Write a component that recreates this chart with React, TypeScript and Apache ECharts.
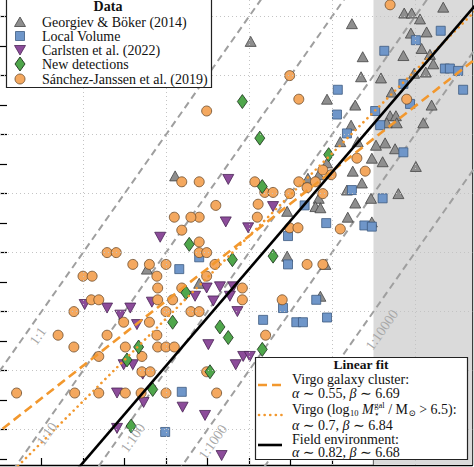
import React, { useEffect, useRef } from 'react';
import * as echarts from 'echarts';

const SERIF = '"Liberation Serif", "DejaVu Serif", serif';

// Axis extents, log10 of the stellar masses
const xMin = 5;
const xMax = 10.69;
const yMin = 4.2;
const yMax = 8.2;
const pxPerDexX = 83;
const pxPerDexY = 118;

const xTickValues = [5.5, 6, 6.5, 7, 7.5, 8, 8.5, 9, 9.5, 10, 10.5];
const yTickValues = [4.25, 4.5, 4.75, 5, 5.25, 5.5, 5.75, 6, 6.25, 6.5, 6.75, 7, 7.25, 7.5, 7.75, 8];
const xGridValues = [6, 7, 8, 9, 10];
const yGridValues = [4.5, 5, 5.5, 6, 6.5, 7, 7.5, 8];

// galaxy masses above this are shaded
const shadeFrom = 9.5;

// constant mass ratio lines M_nsc = ratio * M_gal
const ratioOffsets = [0, -1, -2, -3, -4];
const ratioLabels = ['1:1', '1:10', '1:100', '1:1000', '1:10000'];

// linear fits: log M_nsc = alpha (log M_gal - 9) + beta
const fitAlpha = [0.55, 0.7, 0.82];
const fitBeta = [6.69, 6.84, 6.68];
const fitPivot = 9;

const georgievBoker = [
  [8.02, 7.79], [9.24, 7.94], [9.87, 8.03], [9.96, 8.03], [10.34, 8.08], [10.06, 7.98], [9.95, 7.86],
  [10.14, 7.87], [10.08, 7.73], [9.86, 7.67], [9.37, 7.66], [10.18, 7.68], [10.22, 7.6], [10.13, 7.53],
  [9.35, 7.49], [9.59, 7.48], [8.94, 7.3], [9.28, 7.25], [9.72, 7.36], [9.7, 7.16], [9.77, 7.16],
  [10.2, 7.25], [9.99, 7.52], [9.23, 7.08], [9.66, 7.1], [9.78, 7.1], [10.1, 7.1], [9.64, 6.93],
  [9.76, 6.88], [9.53, 6.91], [9.31, 6.94], [9.48, 6.8], [9.61, 6.77], [10.01, 6.73], [9.25, 6.69],
  [8.94, 6.76], [8.84, 6.66], [9.36, 6.59], [9.18, 6.53], [9.47, 6.46], [9.8, 6.5], [9.28, 6.42],
  [9.19, 6.3], [9.48, 6.26], [8.84, 6.46], [8.46, 6.35], [8.8, 6.39], [8.86, 6.38], [9.1, 6.94],
  [8.71, 6.63], [6.77, 5.86], [7.4, 5.74], [7.11, 6.65], [8.46, 5.97], [8.92, 5.9], [8.86, 5.63],
];

const localVolume = [
  [10.31, 7.88], [10.01, 7.8], [9.63, 7.71], [10.36, 7.56], [10.42, 7.56], [10.52, 7.54], [9.07, 7.38],
  [9.06, 7.17], [10.58, 7.38], [9.86, 7.43], [9.94, 7.26], [9.52, 7.2], [9.18, 7.01], [9.58, 7.08],
  [9.86, 6.85], [9.24, 6.53], [9.61, 6.46], [9.39, 6.23], [9.48, 6.22], [8.93, 6.25], [8.67, 6.4],
  [8.47, 6.14], [8.47, 5.9], [8.41, 5.53], [8.81, 5.6], [8.17, 5.43], [8.57, 5.41], [8.65, 5.41],
  [8.94, 5.45], [7.16, 5.86], [7.4, 5.96], [7.19, 4.82], [6.99, 4.48],
];

const carlsten = [
  [7.75, 6.62], [6.93, 6.13], [8.29, 6.39], [7.99, 6.21], [6.02, 5.56], [6.29, 5.53], [6.45, 5.47],
  [6.57, 5.53], [6.65, 5.39], [6.83, 5.58], [7.49, 5.7], [7.65, 5.71], [7.35, 5.63], [7.57, 5.59],
  [7.81, 5.71], [7.77, 5.63], [7.86, 5.5], [7.51, 5.22], [7.72, 6.26], [6.49, 5.05], [6.6, 5.05],
  [6.72, 4.97], [6.41, 4.81], [6.73, 4.73], [7.2, 4.69], [7.47, 4.62], [6.41, 4.51], [7.67, 4.28],
  [7.84, 5.05], [7.93, 5.12], [8.01, 5.12],
];

const newDetections = [
  [7.92, 7.28], [8.13, 6.97], [8.16, 6.56], [8.96, 6.83], [7.28, 6.07], [7.8, 5.94], [7.24, 5.66],
  [7.08, 5.41], [6.67, 5.2], [6.53, 5.09], [7.65, 5.37], [7.75, 5.28], [8.16, 5.18], [6.84, 4.84],
  [6.58, 4.53], [7.53, 4.99], [8.29, 5.97],
];

const sanchezJanssen = [
  [7.49, 7.2], [9.7, 8.1], [8.49, 7.5], [8.6, 7.3], [9.9, 7.3], [7.19, 6.6], [7.4, 6.6], [7.6, 6.4],
  [7.1, 6.3], [7.4, 6.3], [7.19, 6.19], [9.3, 6.8], [9.4, 6.69], [8.89, 6.7], [8.99, 6.66], [8.07, 6.6],
  [8.19, 6.51], [8.29, 6.51], [8.49, 6.5], [8.6, 6.6], [8.8, 6.6], [8.7, 6.55], [8.89, 6.5], [8.11, 6.41],
  [8.1, 6.3], [8.49, 6.21], [8.59, 6.21], [9.1, 6.2], [6.29, 6.0], [6.4, 6.0], [6.6, 5.9], [6.8, 5.9],
  [7.0, 5.9], [6.0, 5.8], [6.11, 5.8], [6.1, 5.6], [6.19, 5.6], [6.89, 5.8], [6.9, 5.7], [6.9, 5.6],
  [5.89, 5.5], [6.49, 5.41], [6.8, 5.41], [7.0, 5.5], [6.89, 5.3], [5.7, 5.3], [6.29, 5.3], [5.89, 5.2],
  [6.51, 5.2], [6.9, 5.2], [7.0, 5.2], [7.1, 5.2], [6.19, 5.12], [6.71, 5.12], [7.4, 6.09], [7.4, 6.0],
  [7.49, 6.0], [7.59, 5.9], [7.49, 5.8], [7.08, 5.6], [7.3, 5.5], [7.4, 5.5], [7.19, 5.7], [7.3, 6.3],
  [6.71, 4.99], [6.81, 4.99], [5.2, 4.81], [5.9, 4.81], [6.19, 4.81], [6.51, 4.81], [6.7, 4.81],
  [7.0, 4.81], [7.61, 4.81], [7.49, 4.99], [8.7, 5.9], [8.89, 5.9], [8.4, 5.6], [8.2, 5.3], [7.92, 5.7],
  [7.92, 5.6],
];

const GRAY = '#8e8e8e';
const BLUE = '#6f96c9';
const PURPLE = '#8c4c9a';
const GREEN = '#4fa64b';
const ORANGE = '#f4a85f';
const FIT_ORANGE = '#f2982e';

const measureCtx = typeof document !== 'undefined' ? document.createElement('canvas').getContext('2d') : null;
function textWidth(t: string, size: number, italic = false, bold = false) {
  if (!measureCtx) return t.length * size * 0.45;
  measureCtx.font = `${italic ? 'italic' : 'normal'} ${bold ? 'bold' : 'normal'} ${size}px ${SERIF}`;
  return measureCtx.measureText(t).width;
}

function txt(t: string, x: number, y: number, size: number, opts: any = {}) {
  return {
    type: 'text',
    x,
    y,
    z: 100,
    rotation: opts.rotation || 0,
    silent: true,
    style: {
      text: t,
      fill: opts.fill || '#111',
      fontSize: size,
      fontFamily: SERIF,
      fontStyle: opts.italic ? 'italic' : 'normal',
      fontWeight: opts.bold ? 'bold' : 'normal',
      align: opts.align || 'left',
      textAlign: opts.align || 'left',
      verticalAlign: 'middle',
      textVerticalAlign: 'middle',
    },
  };
}

type Frag = { t: string; size?: number; italic?: boolean; dy?: number; dx?: number; hold?: boolean };
function fragLine(frags: Frag[], x0: number, y: number, base: number) {
  let x = x0;
  const out: any[] = [];
  for (const f of frags) {
    const size = f.size ?? base;
    x += f.dx ?? 0;
    out.push(txt(f.t, x, y + (f.dy ?? 0), size, { italic: f.italic }));
    if (!f.hold) x += textWidth(f.t, size, f.italic);
  }
  return out;
}

function legendGraphics() {
  const els: any[] = [];
  const fs = 14;
  // data legend
  els.push({ type: 'rect', z: 99, shape: { x: 6.5, y: -4, width: 205, height: 91.5 }, style: { fill: '#fff', stroke: '#222', lineWidth: 1.2 } });
  els.push(txt('Data', 108, 6, fs, { bold: true, align: 'center' }));
  const mx = 20;
  const rows = [22, 36, 50, 64, 79];
  els.push({ type: 'polygon', z: 100, shape: { points: [[mx, rows[0] - 5], [mx + 5.5, rows[0] + 4.5], [mx - 5.5, rows[0] + 4.5]] }, style: { fill: GRAY, stroke: '#444', lineWidth: 0.8 } });
  els.push({ type: 'rect', z: 100, shape: { x: mx - 4.5, y: rows[1] - 4.5, width: 9, height: 9 }, style: { fill: BLUE, stroke: '#3d5a80', lineWidth: 0.8 } });
  els.push({ type: 'polygon', z: 100, shape: { points: [[mx - 5.5, rows[2] - 4.5], [mx + 5.5, rows[2] - 4.5], [mx, rows[2] + 5]] }, style: { fill: PURPLE, stroke: '#4a2455', lineWidth: 0.8 } });
  els.push({ type: 'polygon', z: 100, shape: { points: [[mx, rows[3] - 7], [mx + 5, rows[3]], [mx, rows[3] + 7], [mx - 5, rows[3]]] }, style: { fill: GREEN, stroke: '#1d331c', lineWidth: 0.9 } });
  els.push({ type: 'circle', z: 100, shape: { cx: mx, cy: rows[4], r: 5 }, style: { fill: ORANGE, stroke: '#6b4a2a', lineWidth: 0.8 } });
  const names = ['Georgiev & Böker (2014)', 'Local Volume', 'Carlsten et al. (2022)', 'New detections', 'Sánchez-Janssen et al. (2019)'];
  names.forEach((n, i) => els.push(txt(n, 42, rows[i], fs)));

  // fit legend
  els.push({ type: 'rect', z: 99, shape: { x: 255.5, y: 357.5, width: 212, height: 102 }, style: { fill: '#fff', stroke: '#222', lineWidth: 1.2 } });
  els.push(txt('Linear fit', 361, 364.5, 13.5, { bold: true, align: 'center' }));
  const sx1 = 258;
  const sx2 = 282;
  els.push({ type: 'line', z: 100, shape: { x1: sx1, y1: 385, x2: sx2, y2: 385 }, style: { stroke: FIT_ORANGE, lineWidth: 2.6, lineDash: [9, 5] } });
  els.push({ type: 'line', z: 100, shape: { x1: sx1 + 1, y1: 415, x2: sx2, y2: 415 }, style: { stroke: FIT_ORANGE, lineWidth: 2.6, lineDash: [0.1, 5.5], lineCap: 'round' } });
  els.push({ type: 'line', z: 100, shape: { x1: sx1, y1: 445, x2: sx2, y2: 445 }, style: { stroke: '#000', lineWidth: 2.6 } });
  const tx = 292;
  const ab = (a: string, b: string, y: number) =>
    fragLine([{ t: 'α', italic: true }, { t: ' ∼ ' + a + ', ' }, { t: 'β', italic: true }, { t: ' ∼ ' + b }], tx, y, fs);
  els.push(txt('Virgo galaxy cluster:', tx, 379.5, fs));
  els.push(...ab(String(fitAlpha[0]), String(fitBeta[0]), 393));
  els.push(
    ...fragLine(
      [
        { t: 'Virgo (log' },
        { t: '10', size: 8.5, dy: 3, dx: 0.5 },
        { t: 'M', italic: true, dx: 3.5 },
        { t: '⋆', size: 8.5, dy: 4, dx: 0.5, hold: true },
        { t: 'gal', size: 8.5, dy: -5 },
        { t: '/ M', dx: 3.5 },
        { t: '⊙', size: 8.5, dy: 3, dx: 0.5 },
        { t: '> 6.5):', dx: 3.5 },
      ],
      tx,
      409.5,
      fs,
    ),
  );
  els.push(...ab(String(fitAlpha[1]), String(fitBeta[1]), 425.5));
  els.push(txt('Field environment:', tx, 439, fs));
  els.push(...ab(String(fitAlpha[2]), String(fitBeta[2]), 452.5));

  // ratio line labels
  const rot = Math.atan(pxPerDexY / pxPerDexX);
  const labelPos = [
    [38, 336],
    [47, 434],
    [133, 438],
    [213, 442],
    [382, 330],
  ];
  ratioLabels.forEach((l, i) =>
    els.push(txt(l, labelPos[i][0], labelPos[i][1], 14, { rotation: rot, align: 'center', fill: '#a6a6a6' })),
  );
  return els;
}

function scatter(name: string, data: number[][], symbol: string, size: any, color: string, edge: string, rotate = 0) {
  return {
    type: 'scatter',
    name,
    data,
    symbol,
    symbolSize: size,
    symbolRotate: rotate,
    z: 4,
    silent: true,
    itemStyle: { color, borderColor: edge, borderWidth: 0.8, opacity: 1 },
  };
}

function fitLine(i: number, lineStyle: any) {
  const xs = [4.5, 11.2];
  return {
    type: 'line',
    data: xs.map((x) => [x, fitAlpha[i] * (x - fitPivot) + fitBeta[i]]),
    symbol: 'none',
    z: 6,
    silent: true,
    lineStyle,
  };
}

export default function App() {
  const ref = useRef<HTMLDivElement>(null);
  useEffect(() => {
    if (!ref.current) return;
    const chart = echarts.init(ref.current, undefined, { renderer: 'svg' });
    const gridW = (xMax - xMin) * pxPerDexX;
    const gridH = (yMax - yMin) * pxPerDexY;
    const axisCommon = {
      type: 'value',
      axisLabel: { show: false },
      splitLine: { show: false },
    };
    const tickStyle = { color: '#000', width: 1.2 };
    chart.setOption({
      animation: false,
      backgroundColor: '#fff',
      grid: { left: 0, top: 465 - gridH, width: gridW, height: gridH, outerBoundsMode: 'none', containLabel: false },
      xAxis: {
        ...axisCommon,
        min: xMin,
        max: xMax,
        position: 'bottom',
        axisLine: { show: true, onZero: false, lineStyle: { color: '#000', width: 1.3 } },
        axisTick: { show: true, inside: true, length: 7, customValues: xTickValues, lineStyle: tickStyle },
      },
      yAxis: [
        {
          ...axisCommon,
          min: yMin,
          max: yMax,
          position: 'left',
          axisLine: { show: false },
          axisTick: { show: true, inside: true, length: 7, customValues: yTickValues, lineStyle: tickStyle },
        },
        {
          ...axisCommon,
          min: yMin,
          max: yMax,
          position: 'right',
          axisLine: { show: true, onZero: false, lineStyle: { color: '#000', width: 1.3 } },
          axisTick: { show: true, inside: true, length: 7, customValues: yTickValues, lineStyle: tickStyle },
        },
      ],
      series: [
        {
          type: 'scatter',
          data: [],
          z: 1,
          silent: true,
          markLine: {
            silent: true,
            symbol: 'none',
            label: { show: false },
            lineStyle: { color: '#c4c4c4', width: 1, type: [1, 3] },
            data: [...xGridValues.map((v) => ({ xAxis: v })), ...yGridValues.map((v) => ({ yAxis: v }))],
          },
        },
        {
          type: 'scatter',
          data: [],
          z: 2,
          silent: true,
          markArea: {
            silent: true,
            itemStyle: { color: '#dadada', opacity: 1 },
            data: [[{ xAxis: shadeFrom }, { xAxis: xMax }]],
          },
        },
        ...ratioOffsets.map((k) => ({
          type: 'line',
          data: [
            [3, 3 + k],
            [12, 12 + k],
          ],
          symbol: 'none',
          z: 3,
          silent: true,
          lineStyle: { color: '#9f9f9f', width: 2, type: [7, 4.5] },
        })),
        scatter('Georgiev & Böker (2014)', georgievBoker, 'triangle', [11, 10], GRAY, '#444'),
        scatter('Local Volume', localVolume, 'rect', 9, BLUE, '#3d5a80'),
        scatter('Carlsten et al. (2022)', carlsten, 'triangle', [11, 10], PURPLE, '#4a2455', 180),
        scatter('Sánchez-Janssen et al. (2019)', sanchezJanssen, 'circle', 10, ORANGE, '#6b4a2a'),
        scatter('New detections', newDetections, 'diamond', [10, 14], GREEN, '#1d331c'),
        fitLine(0, { color: FIT_ORANGE, width: 2.6, type: [9, 5] }),
        fitLine(1, { color: FIT_ORANGE, width: 2.6, type: [0.1, 5.5], cap: 'round' }),
        fitLine(2, { color: '#000', width: 2.6 }),
      ],
      graphic: { elements: legendGraphics() },
    });
    return () => chart.dispose();
  }, []);
  return <div ref={ref} style={{ position: 'fixed', left: 0, top: 0, width: 474, height: 467, background: '#fff' }} />;
}
